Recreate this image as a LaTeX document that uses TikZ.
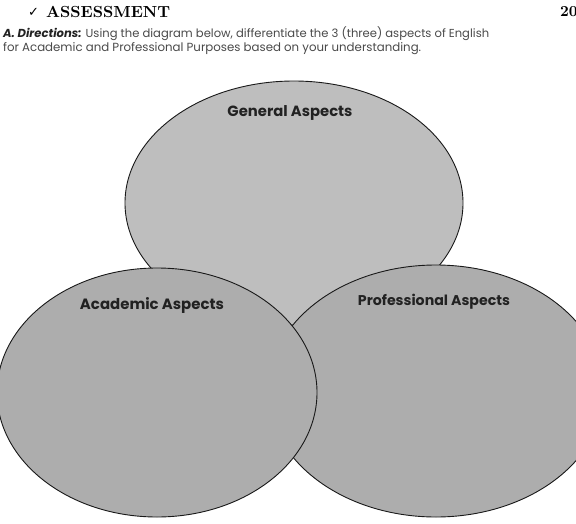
\documentclass[tikz,border=0pt]{standalone}
\usepackage{fontspec}
\newfontfamily\geo{Poppins}
\newfontfamily\sym{DejaVu Sans}
\usetikzlibrary{shapes.geometric}
\definecolor{topfill}{HTML}{BEBEBE}
\definecolor{sidefill}{HTML}{ADADAD}
\definecolor{bodytext}{HTML}{4A4A4A}
\definecolor{labeltext}{HTML}{222222}
\begin{document}
\begin{tikzpicture}[x=1pt,y=-1pt,
  bubble/.style={ellipse, draw=black!90, line width=0.9pt, inner sep=0pt},
  lbl/.style={inner sep=0pt, text=labeltext, font=\geo\bfseries},
  txt/.style={inner sep=0pt, anchor=west, text=bodytext, font=\geo}]
\useasboundingbox (0,0) rectangle (576,523);
\fill[white] (0,0) rectangle (576,523);
% circles: general first, then professional, then academic on top
\node[bubble, fill=topfill, minimum width=338pt, minimum height=244pt] (general) at (294,203) {};
\node[bubble, fill=sidefill, minimum width=336pt, minimum height=252pt] (professional) at (436,391) {};
\node[bubble, fill=sidefill, minimum width=320pt, minimum height=249pt] (academic) at (157,392.5) {};
% labels
\node[lbl] (glabel) at (290,113) {\resizebox{125pt}{!}{General Aspects}};
\node[lbl] (alabel) at (152,306) {\resizebox{144pt}{!}{Academic Aspects}};
\node[lbl] (plabel) at (434,302) {\resizebox{152pt}{!}{Professional Aspects}};
% header
\node[inner sep=0pt, anchor=west, text=black] (check) at (28,12) {\sym\fontsize{13pt}{15pt}\selectfont ✓};
\node[inner sep=0pt, anchor=west, text=black] (title) at (46,12) {\resizebox{124pt}{!}{\bfseries ASSESSMENT}};
\node[inner sep=0pt, anchor=west, text=black] (page) at (560,12) {\resizebox{!}{10pt}{\bfseries 20}};
\node[txt] (line1) at (3,34) {\resizebox{486pt}{!}{{\color{labeltext}\bfseries\itshape A. Directions:} Using the diagram below, differentiate the 3 (three) aspects of English}};
\node[txt] (line2) at (3,49) {\resizebox{418pt}{!}{for Academic and Professional Purposes based on your understanding.}};
\end{tikzpicture}
\end{document}
